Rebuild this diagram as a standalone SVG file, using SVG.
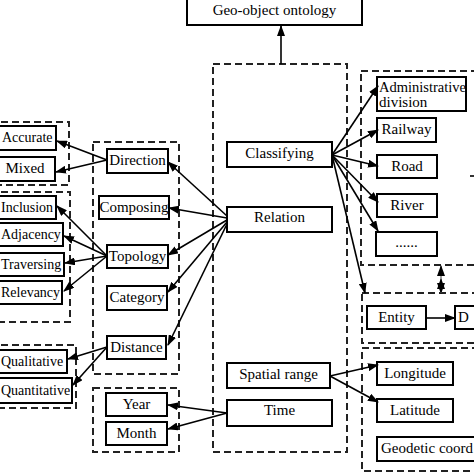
<svg xmlns="http://www.w3.org/2000/svg" width="474" height="474" viewBox="0 0 474 474">
<defs>
<marker id="ah" markerWidth="11" markerHeight="8" refX="10" refY="4" orient="auto" markerUnits="userSpaceOnUse">
<path d="M0,0 L11,4 L0,8 Z" fill="#000"/>
</marker>
<marker id="ahs" markerWidth="11" markerHeight="8" refX="1" refY="4" orient="auto" markerUnits="userSpaceOnUse">
<path d="M11,0 L0,4 L11,8 Z" fill="#000"/>
</marker>
<style>
.b{fill:#fff;stroke:#000;stroke-width:2}
.g{fill:none;stroke:#222;stroke-width:2;stroke-dasharray:7 4}
.t{font-family:'Liberation Serif','DejaVu Serif',serif;font-size:15px;fill:#000;text-anchor:middle}
.l{font-size:14px;text-anchor:start}
.s{text-anchor:start}
.c line{stroke:#000;stroke-width:1.6;marker-end:url(#ah)}
</style>
</defs>
<rect width="474" height="474" fill="#fff"/>

<g id="groups">
<rect class="g" x="213" y="64" width="134" height="388"/>
<rect class="g" x="361" y="71" width="130" height="194"/>
<rect class="g" x="362" y="293" width="130" height="50"/>
<rect class="g" x="362" y="348" width="130" height="123"/>
<rect class="g" x="93" y="142" width="86" height="232"/>
<rect class="g" x="93" y="388" width="86" height="64"/>
<rect class="g" x="-10" y="122" width="79" height="63"/>
<rect class="g" x="-10" y="192" width="80" height="130"/>
<rect class="g" x="-10" y="345" width="86" height="63"/>
</g>

<g id="geo-object-ontology"><rect class="b" x="187" y="-3" width="175" height="28"/><text class="t" x="274.5" y="15">Geo-object ontology</text></g>
<g id="classifying"><rect class="b" x="227" y="142" width="105" height="25"/><text class="t" x="279.5" y="158">Classifying</text></g>
<g id="relation"><rect class="b" x="227" y="207" width="105" height="25"/><text class="t" x="279.5" y="222">Relation</text></g>
<g id="spatial-range"><rect class="b" x="227" y="363" width="103" height="25"/><text class="t" x="278.5" y="379">Spatial range</text></g>
<g id="time"><rect class="b" x="227" y="400" width="105" height="26"/><text class="t" x="279.5" y="415">Time</text></g>

<g id="administrative-division"><rect class="b" x="377" y="77" width="89" height="34"/><text class="t s" x="379" y="92" style="font-size:14.5px">Administrative</text><text class="t s" x="379" y="107">division</text></g>
<g id="railway"><rect class="b" x="377" y="118" width="59" height="24"/><text class="t" x="406.5" y="134">Railway</text></g>
<g id="road"><rect class="b" x="377" y="155" width="60" height="23"/><text class="t" x="407" y="171">Road</text></g>
<g id="river"><rect class="b" x="377" y="194" width="60" height="23"/><text class="t" x="407" y="210">River</text></g>
<g id="more"><rect class="b" x="376" y="232" width="61" height="24"/><text class="t" x="406.5" y="247">......</text></g>
<g id="entity"><rect class="b" x="367" y="306" width="59" height="23"/><text class="t" x="396.5" y="322">Entity</text></g>
<g id="d"><rect class="b" x="455" y="306" width="30" height="23"/><text class="t s" x="458" y="322">D</text></g>
<g id="longitude"><rect class="b" x="377" y="362" width="76" height="23"/><text class="t" x="415" y="378">Longitude</text></g>
<g id="latitude"><rect class="b" x="377" y="399" width="76" height="23"/><text class="t" x="415" y="415">Latitude</text></g>
<g id="geodetic-coord"><rect class="b" x="377" y="437" width="110" height="24"/><text class="t s" x="381" y="453">Geodetic coord</text></g>

<g id="direction"><rect class="b" x="107" y="149" width="61" height="24"/><text class="t" x="137.5" y="165">Direction</text></g>
<g id="composing"><rect class="b" x="99" y="196" width="70" height="23"/><text class="t" x="134" y="212">Composing</text></g>
<g id="topology"><rect class="b" x="107" y="245" width="61" height="23"/><text class="t" x="137.5" y="261">Topology</text></g>
<g id="category"><rect class="b" x="107" y="286" width="60" height="24"/><text class="t" x="137" y="302">Category</text></g>
<g id="distance"><rect class="b" x="107" y="336" width="59" height="23"/><text class="t" x="136.5" y="352">Distance</text></g>
<g id="year"><rect class="b" x="106" y="393" width="61" height="23"/><text class="t" x="136.5" y="409">Year</text></g>
<g id="month"><rect class="b" x="106" y="422" width="61" height="23"/><text class="t" x="136.5" y="438">Month</text></g>

<g id="accurate"><rect class="b" x="-5" y="126" width="61" height="24"/><text class="t l" x="2" y="142">Accurate</text></g>
<g id="mixed"><rect class="b" x="-5" y="157" width="60" height="24"/><text class="t" x="25" y="173">Mixed</text></g>
<g id="inclusion"><rect class="b" x="-5" y="196" width="61" height="23"/><text class="t l" x="1" y="212">Inclusion</text></g>
<g id="adjacency"><rect class="b" x="-5" y="223" width="68" height="23"/><text class="t l" x="1" y="239">Adjacency</text></g>
<g id="traversing"><rect class="b" x="-5" y="253" width="69" height="23"/><text class="t l" x="1" y="269">Traversing</text></g>
<g id="relevancy"><rect class="b" x="-5" y="281" width="67" height="23"/><text class="t l" x="1" y="297">Relevancy</text></g>
<g id="qualitative"><rect class="b" x="-5" y="350" width="72" height="23"/><text class="t l" x="1" y="366">Qualitative</text></g>
<g id="quantitative"><rect class="b" x="-5" y="378" width="77" height="25"/><text class="t l" x="1" y="395">Quantitative</text></g>

<g id="connectors" class="c">
<line x1="281" y1="64" x2="281" y2="26"/>
<line x1="332" y1="155" x2="378" y2="86"/>
<line x1="332" y1="155" x2="378" y2="130"/>
<line x1="332" y1="155" x2="378" y2="166"/>
<line x1="332" y1="155" x2="378" y2="202"/>
<line x1="332" y1="155" x2="378" y2="231"/>
<line x1="332" y1="155" x2="365" y2="293"/>
<line x1="227" y1="216" x2="168" y2="162"/>
<line x1="227" y1="218" x2="169" y2="208"/>
<line x1="227" y1="220" x2="168" y2="255"/>
<line x1="227" y1="222" x2="168" y2="292"/>
<line x1="227" y1="224" x2="168" y2="345"/>
<line x1="107" y1="160" x2="57" y2="141"/>
<line x1="107" y1="160" x2="56" y2="172"/>
<line x1="107" y1="256" x2="57" y2="206"/>
<line x1="107" y1="256" x2="64" y2="236"/>
<line x1="107" y1="256" x2="65" y2="263"/>
<line x1="107" y1="256" x2="64" y2="291"/>
<line x1="107" y1="347" x2="68" y2="359"/>
<line x1="107" y1="347" x2="73" y2="385"/>
<line x1="227" y1="413" x2="168" y2="405"/>
<line x1="227" y1="413" x2="168" y2="429"/>
<line x1="330" y1="376" x2="378" y2="365"/>
<line x1="330" y1="376" x2="378" y2="402"/>
<line x1="426" y1="318" x2="455" y2="318"/>
<line x1="441" y1="279" x2="441" y2="293" style="stroke:#888;marker-start:url(#ahs)"/>
<line x1="441" y1="279" x2="441" y2="266" style="stroke:#888"/>
<line x1="470" y1="176" x2="474" y2="176" style="marker-end:none"/>
</g>
</svg>
